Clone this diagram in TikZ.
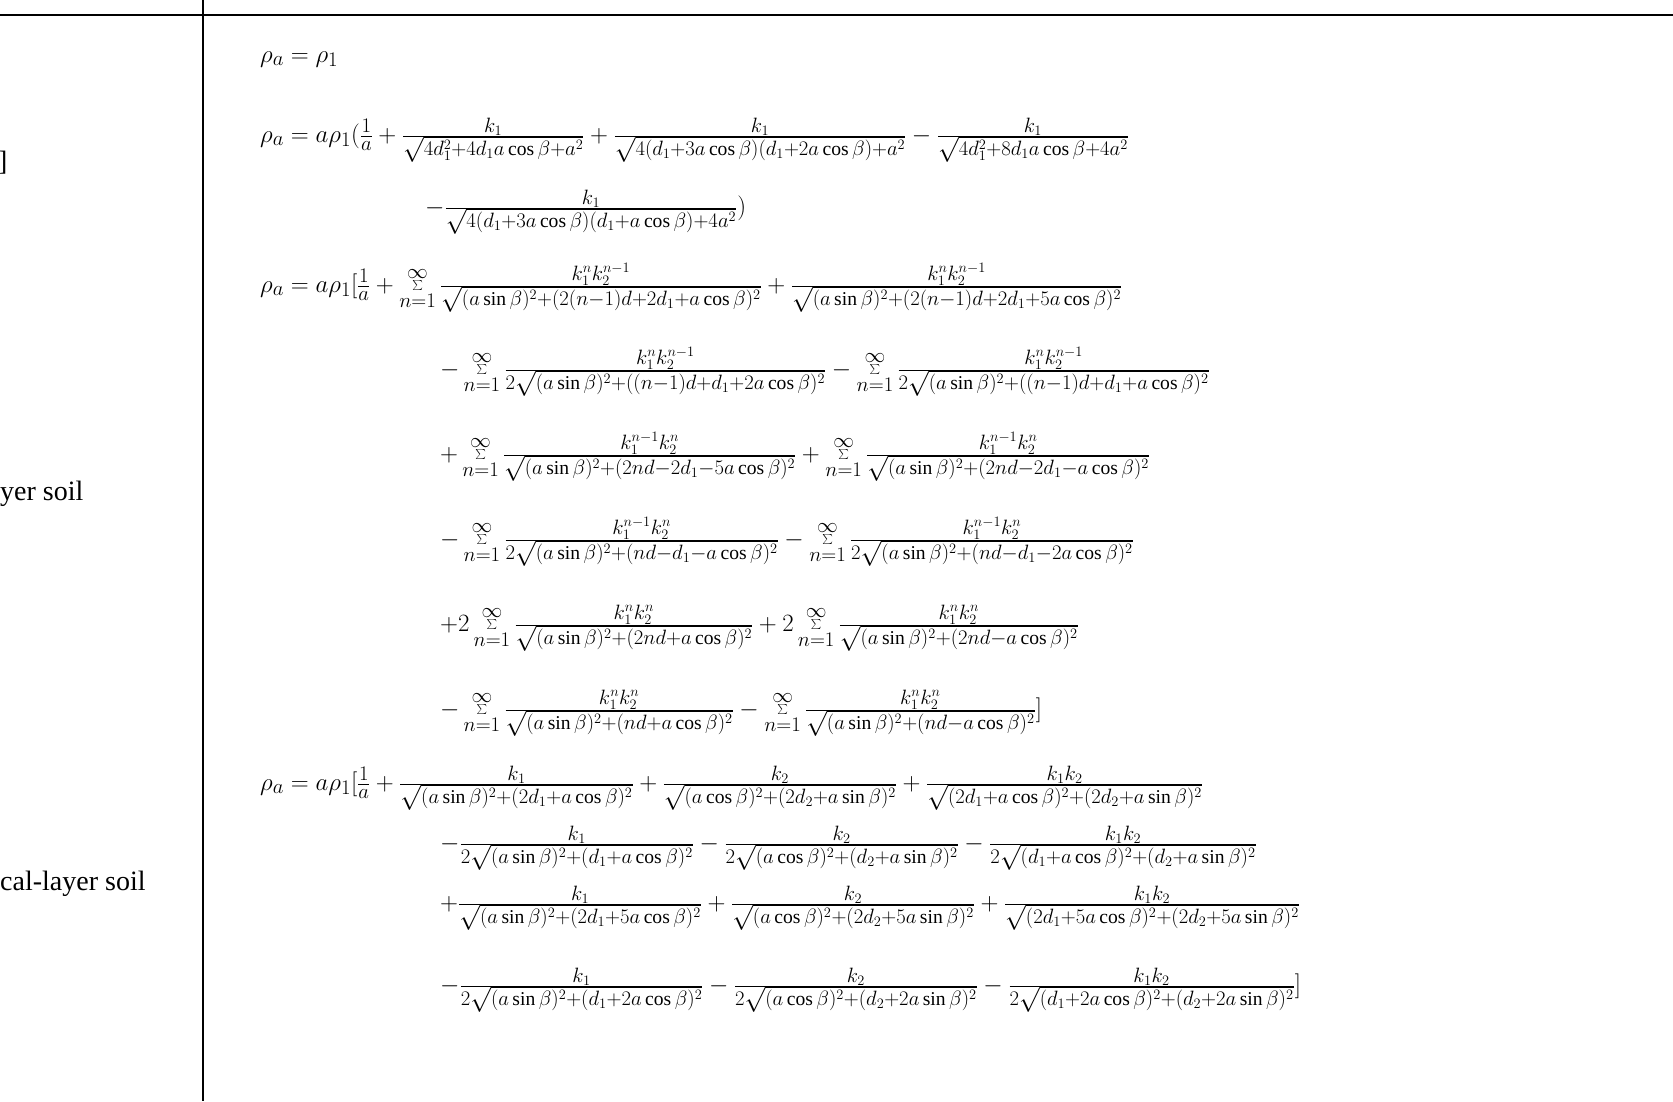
\documentclass[tikz,border=0pt]{standalone}
\usepackage{fontspec}
\setmainfont{Liberation Serif}
\begin{document}
\begin{tikzpicture}[x=1pt,y=-1pt,
  eq/.style={anchor=base west,inner sep=0pt,font=\fontsize{28}{34}\selectfont},
  rule/.style={line width=1.2pt}]
\useasboundingbox (0,0) rectangle (1673,1101);
\coordinate (tl) at (0,15); \coordinate (tr) at (1673,15);
\coordinate (vt) at (203,0); \coordinate (vb) at (203,1101);
\draw[rule] (tl) -- (tr);
\draw[rule] (vt) -- (vb);
\node[eq] (l1) at (-2,170) {]};
\node[eq] (l2) at (0,500) {yer soil};
\node[eq] (l3) at (0,890) {cal-layer soil};
\node[eq] (r1) at (260,62) {$\rho_a=\rho_1$};
\node[eq] (r2) at (260,142) {$\rho_a=a\rho_1\Biggl(\frac1a+\frac{k_1}{\sqrt{4d_1^2+4d_1a\cos\beta+a^2}}+\frac{k_1}{\sqrt{4(d_1+3a\cos\beta)(d_1+2a\cos\beta)+a^2}}-\frac{k_1}{\sqrt{4d_1^2+8d_1a\cos\beta+4a^2}}$};
\node[eq] (r3) at (425,214) {$-\frac{k_1}{\sqrt{4(d_1+3a\cos\beta)(d_1+a\cos\beta)+4a^2}}\Biggr)$};
\node[eq] (r4) at (260,292) {$\rho_a=a\rho_1\Bigl[\frac1a+\sum\limits_{n=1}^{\infty}\frac{k_1^nk_2^{n-1}}{\sqrt{(a\sin\beta)^2+(2(n-1)d+2d_1+a\cos\beta)^2}}+\frac{k_1^nk_2^{n-1}}{\sqrt{(a\sin\beta)^2+(2(n-1)d+2d_1+5a\cos\beta)^2}}$};
\node[eq] (r5) at (440,376) {$-\sum\limits_{n=1}^{\infty}\frac{k_1^nk_2^{n-1}}{2\sqrt{(a\sin\beta)^2+((n-1)d+d_1+2a\cos\beta)^2}}-\sum\limits_{n=1}^{\infty}\frac{k_1^nk_2^{n-1}}{2\sqrt{(a\sin\beta)^2+((n-1)d+d_1+a\cos\beta)^2}}$};
\node[eq] (r6) at (440,461) {$+\sum\limits_{n=1}^{\infty}\frac{k_1^{n-1}k_2^n}{\sqrt{(a\sin\beta)^2+(2nd-2d_1-5a\cos\beta)^2}}+\sum\limits_{n=1}^{\infty}\frac{k_1^{n-1}k_2^n}{\sqrt{(a\sin\beta)^2+(2nd-2d_1-a\cos\beta)^2}}$};
\node[eq] (r7) at (440,546) {$-\sum\limits_{n=1}^{\infty}\frac{k_1^{n-1}k_2^n}{2\sqrt{(a\sin\beta)^2+(nd-d_1-a\cos\beta)^2}}-\sum\limits_{n=1}^{\infty}\frac{k_1^{n-1}k_2^n}{2\sqrt{(a\sin\beta)^2+(nd-d_1-2a\cos\beta)^2}}$};
\node[eq] (r8) at (440,631) {$+2\sum\limits_{n=1}^{\infty}\frac{k_1^nk_2^n}{\sqrt{(a\sin\beta)^2+(2nd+a\cos\beta)^2}}+2\sum\limits_{n=1}^{\infty}\frac{k_1^nk_2^n}{\sqrt{(a\sin\beta)^2+(2nd-a\cos\beta)^2}}$};
\node[eq] (r9) at (440,716) {$-\sum\limits_{n=1}^{\infty}\frac{k_1^nk_2^n}{\sqrt{(a\sin\beta)^2+(nd+a\cos\beta)^2}}-\sum\limits_{n=1}^{\infty}\frac{k_1^nk_2^n}{\sqrt{(a\sin\beta)^2+(nd-a\cos\beta)^2}}\Bigr]$};
\node[eq] (r10) at (260,790) {$\rho_a=a\rho_1[\frac1a+\frac{k_1}{\sqrt{(a\sin\beta)^2+(2d_1+a\cos\beta)^2}}+\frac{k_2}{\sqrt{(a\cos\beta)^2+(2d_2+a\sin\beta)^2}}+\frac{k_1k_2}{\sqrt{(2d_1+a\cos\beta)^2+(2d_2+a\sin\beta)^2}}$};
\node[eq] (r11) at (440,850) {$-\frac{k_1}{2\sqrt{(a\sin\beta)^2+(d_1+a\cos\beta)^2}}-\frac{k_2}{2\sqrt{(a\cos\beta)^2+(d_2+a\sin\beta)^2}}-\frac{k_1k_2}{2\sqrt{(d_1+a\cos\beta)^2+(d_2+a\sin\beta)^2}}$};
\node[eq] (r12) at (440,910) {$+\frac{k_1}{\sqrt{(a\sin\beta)^2+(2d_1+5a\cos\beta)^2}}+\frac{k_2}{\sqrt{(a\cos\beta)^2+(2d_2+5a\sin\beta)^2}}+\frac{k_1k_2}{\sqrt{(2d_1+5a\cos\beta)^2+(2d_2+5a\sin\beta)^2}}$};
\node[eq] (r13) at (440,992) {$-\frac{k_1}{2\sqrt{(a\sin\beta)^2+(d_1+2a\cos\beta)^2}}-\frac{k_2}{2\sqrt{(a\cos\beta)^2+(d_2+2a\sin\beta)^2}}-\frac{k_1k_2}{2\sqrt{(d_1+2a\cos\beta)^2+(d_2+2a\sin\beta)^2}}\Bigr]$};
\end{tikzpicture}
\end{document}
